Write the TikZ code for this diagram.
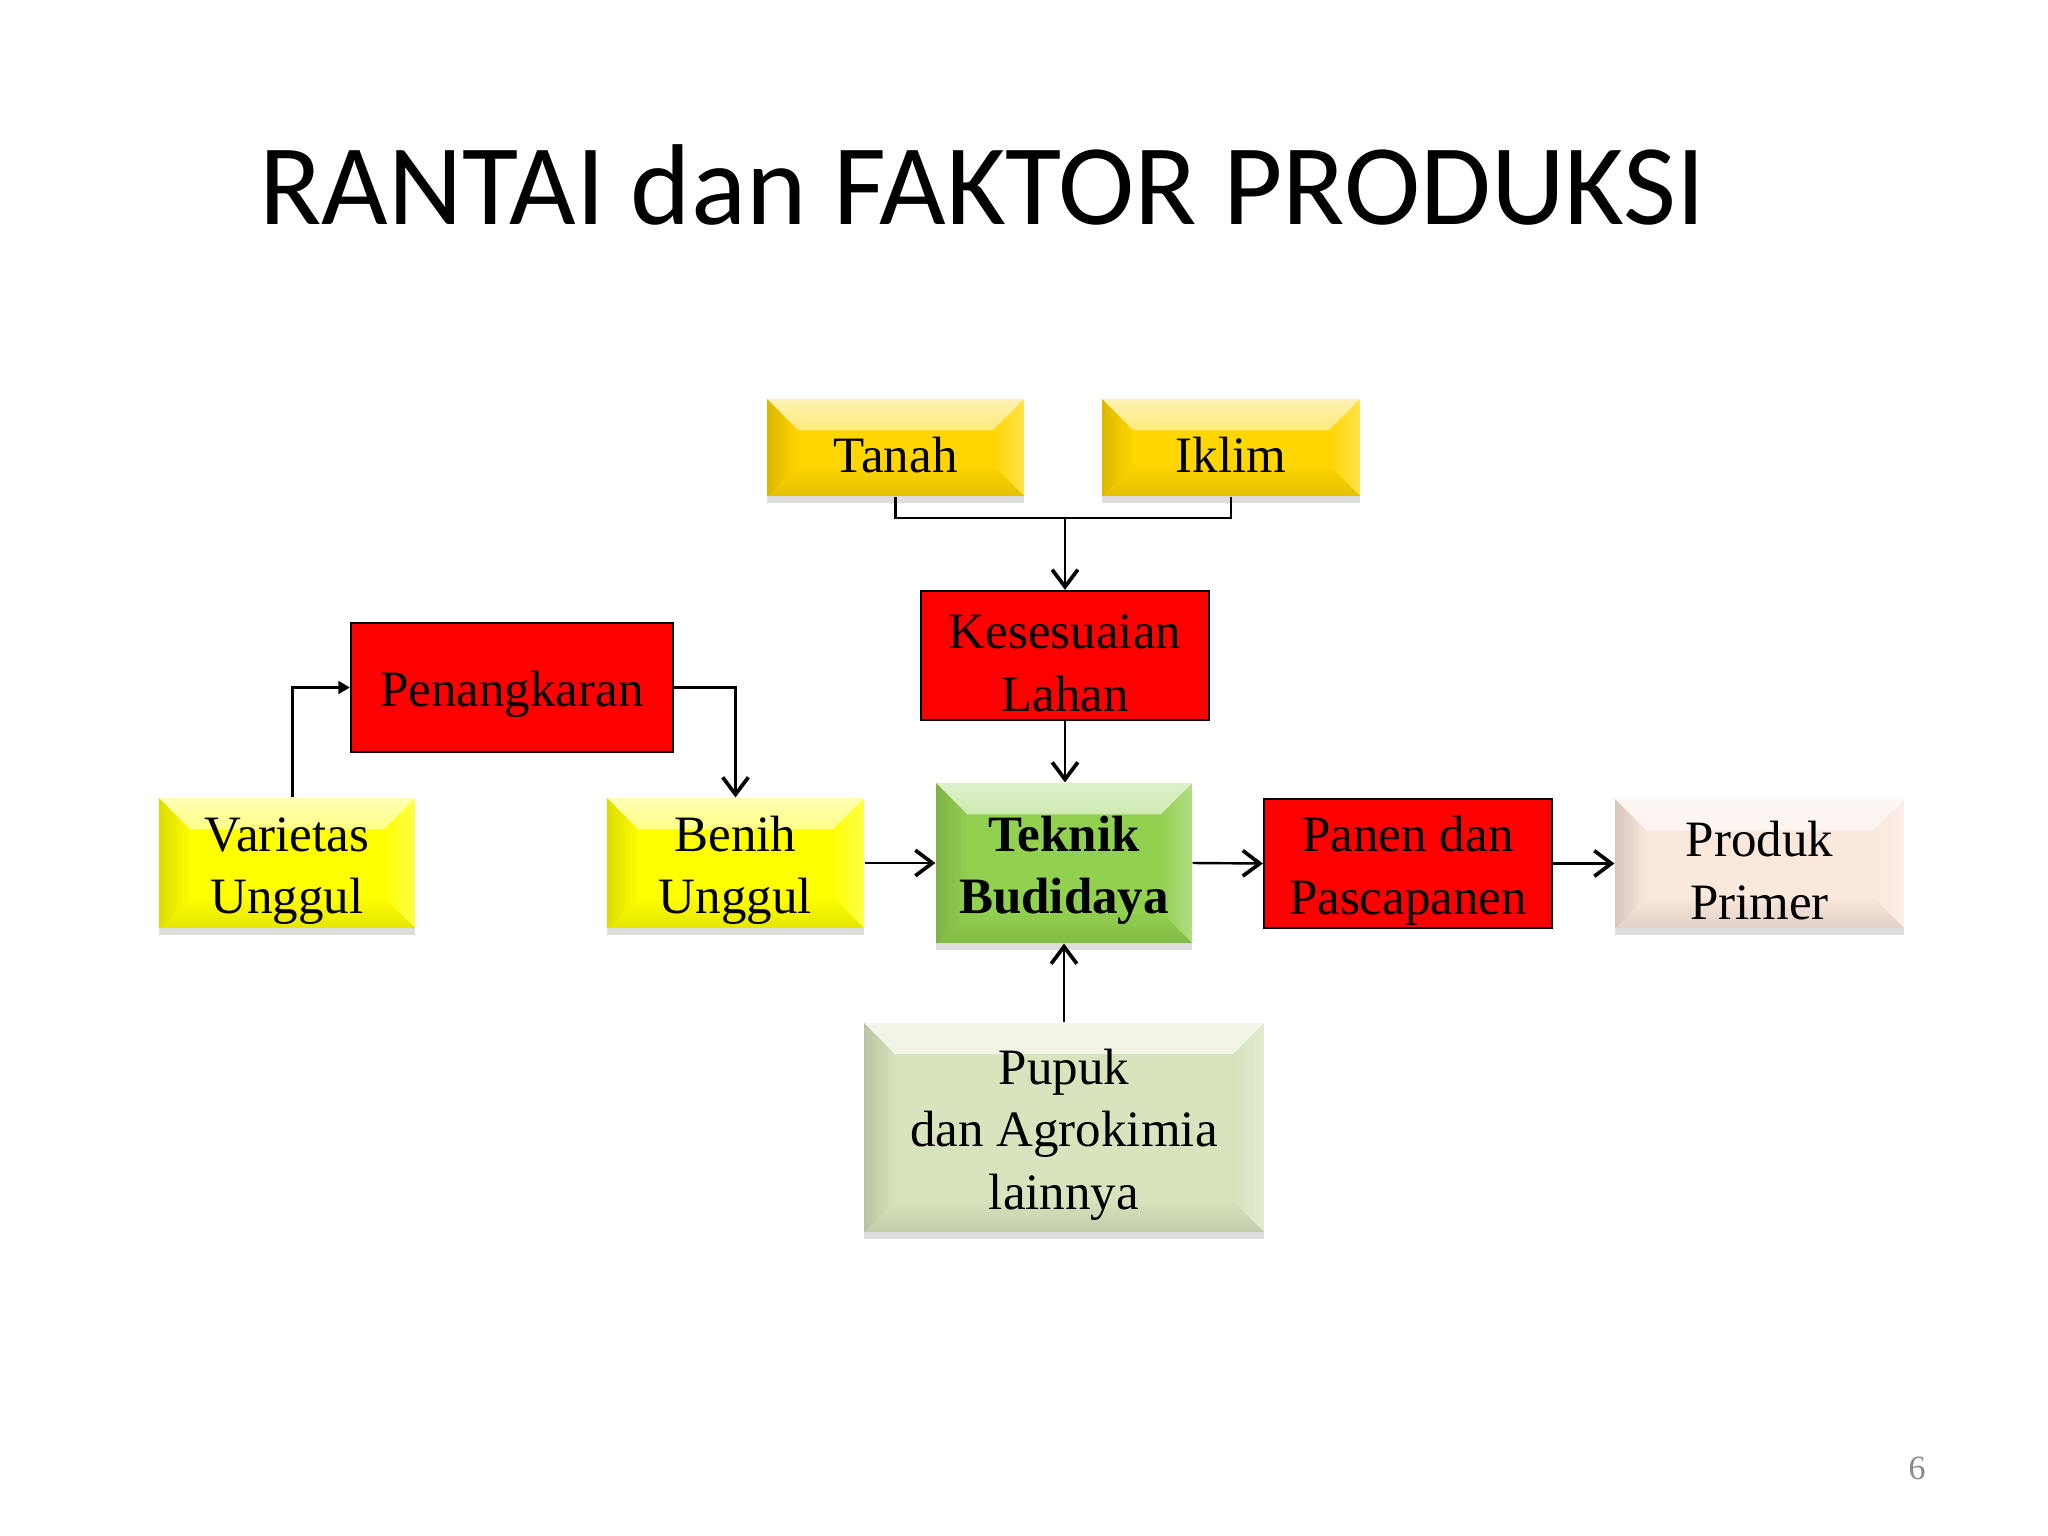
\documentclass[tikz,border=0pt]{standalone}
\usepackage{fontspec}
\setmainfont{Liberation Serif}
\newfontfamily\titlefont{Carlito}
\usetikzlibrary{arrows.meta,shadows,fadings}

\definecolor{goldbox}{RGB}{255,214,0}
\definecolor{yellowbox}{RGB}{255,255,0}
\definecolor{greenbox}{RGB}{146,208,80}
\definecolor{palegreen}{RGB}{215,228,189}
\definecolor{beigebox}{RGB}{250,232,220}
\definecolor{pagegray}{RGB}{137,137,137}

\def\px{0.3515625bp}
\def\bv{11bp}
% strut on the first line: sets the text a little lower in its box
\newcommand\tl{\rule{0pt}{17.5bp}}

\tikzset{
  box/.style={rectangle, inner sep=0pt, align=center,
    font=\fontsize{18}{22}\selectfont},
  redbox/.style={box, fill=red, draw=black, line width=0.8bp},
  bevel/.style={box, draw=none,
    drop shadow={shadow xshift=0bp, shadow yshift=-2.5bp, opacity=0.13, fill=black},
    path picture={
      % top band
      \fill[white, opacity=0.7, path fading=south] (path picture bounding box.north west) -- (path picture bounding box.north east)
        -- ([shift={(-\bv,-\bv)}]path picture bounding box.north east) -- ([shift={(\bv,-\bv)}]path picture bounding box.north west) -- cycle;
      % left band
      \fill[black, opacity=0.14, path fading=east] (path picture bounding box.north west) -- ([shift={(\bv,-\bv)}]path picture bounding box.north west)
        -- ([shift={(\bv,\bv)}]path picture bounding box.south west) -- (path picture bounding box.south west) -- cycle;
      % right band
      \fill[white, opacity=0.3, path fading=west] (path picture bounding box.north east) -- ([shift={(-\bv,-\bv)}]path picture bounding box.north east)
        -- ([shift={(-\bv,\bv)}]path picture bounding box.south east) -- (path picture bounding box.south east) -- cycle;
      % bottom band
      \fill[black, opacity=0.1, path fading=north] (path picture bounding box.south west) -- (path picture bounding box.south east)
        -- ([shift={(-\bv,\bv)}]path picture bounding box.south east) -- ([shift={(\bv,\bv)}]path picture bounding box.south west) -- cycle;
    }},
  conn/.style={line width=0.85bp},
  arr/.style={conn, -{Straight Barb[length=6bp, width=9bp, line width=1.3bp]}},
}

\begin{document}
\begin{tikzpicture}[x=\px, y=-\px]
  \useasboundingbox (0,0) rectangle (2048,1536);

  % title
  \node[anchor=base west, font=\titlefont\fontsize{40.6}{48}\selectfont] (title) at (249,225) {RANTAI dan FAKTOR PRODUKSI};

  % lingkungan
  \node[bevel, fill=goldbox, minimum width=257*\px, minimum height=97*\px] (tanah) at (895.5,447.5) {\tl Tanah};
  \node[bevel, fill=goldbox, minimum width=258*\px, minimum height=97*\px] (iklim) at (1231,447.5) {\tl Iklim};
  \node[redbox, minimum width=288*\px, minimum height=129*\px] (lahan) at (1065,655.5) {\tl Kesesuaian\\Lahan};

  % benih
  \node[redbox, minimum width=322*\px, minimum height=129*\px] (tangkar) at (512,687.5) {\tl Penangkaran};
  \node[bevel, fill=yellowbox, minimum width=256*\px, minimum height=130*\px] (varietas) at (287,863) {\tl Varietas\\Unggul};
  \node[bevel, fill=yellowbox, minimum width=257*\px, minimum height=130*\px] (benih) at (735.5,863) {\tl Benih\\Unggul};

  % rantai utama
  \node[bevel, fill=greenbox, minimum width=256*\px, minimum height=160*\px, font=\fontsize{18}{22}\selectfont\bfseries] (teknik) at (1064,863) {\tl Teknik\\Budidaya};
  \node[redbox, minimum width=288*\px, minimum height=129*\px] (panen) at (1408,863.5) {\tl Panen dan\\Pascapanen};
  \node[bevel, fill=beigebox, minimum width=289*\px, minimum height=129*\px] (produk) at (1759.5,863.5) {\tl Produk\\Primer};
  \node[bevel, fill=palegreen, minimum width=400*\px, minimum height=209*\px] (pupuk) at (1064,1127.5) {\tl Pupuk\\dan Agrokimia\\lainnya};

  % page number
  \node[font=\fontsize{12}{14}\selectfont, text=pagegray] (page) at (1917,1468) {6};

  % connectors
  \coordinate (join) at (1065,518);
  \draw[conn] (tanah.south) |- (join) -| (iklim.south);
  \draw[arr] (join) -- (lahan.north);
  \draw[arr] (lahan.south) -- (lahan.south |- teknik.north);
  \draw[conn, -{Triangle[length=4bp, width=4.5bp]}] ([xshift=2bp]varietas.north) |- (tangkar.west);
  \draw[arr] (tangkar.east) -| (benih.north);
  \draw[arr] (benih.east) -- (teknik.west);
  \draw[arr] (teknik.east) -- (panen.west);
  \draw[arr] (panen.east) -- (produk.west);
  \draw[arr] (pupuk.north) -- (teknik.south);
\end{tikzpicture}
\end{document}
